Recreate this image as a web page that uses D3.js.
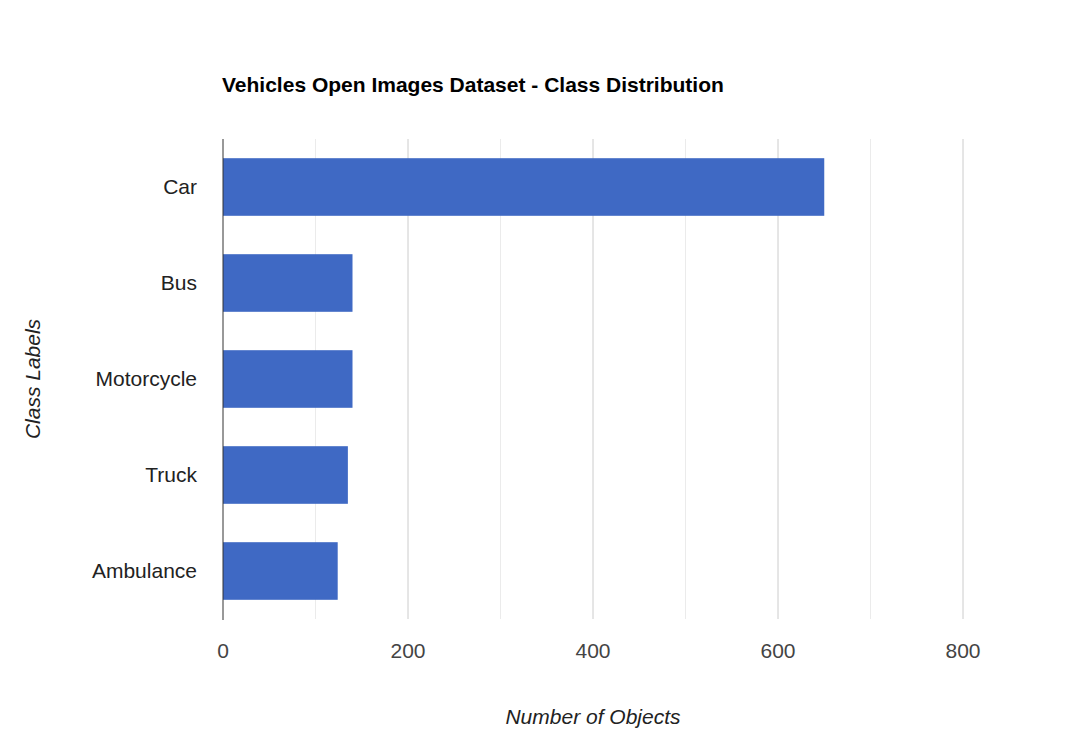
<!DOCTYPE html>
<html>
<head>
<meta charset="utf-8">
<script src="https://cdn.jsdelivr.net/npm/d3@7"></script>
<style>
  body { margin: 0; background: #fff; }
  text { font-family: "Liberation Sans", Arial, sans-serif; }
</style>
</head>
<body>
<svg id="chart" width="1074" height="750"></svg>
<script>
var categories = ["Car", "Bus", "Motorcycle", "Truck", "Ambulance"];
var counts = [650, 140, 140, 135, 124];
var majorTicks = [0, 200, 400, 600, 800];
var minorTicks = [100, 300, 500, 700];

var svg = d3.select("#chart");
var margin = {top: 139, left: 223, right: 111, bottom: 131};
var width = 1074 - margin.left - margin.right;
var height = 750 - margin.top - margin.bottom;

var x = d3.scaleLinear().domain([0, 800]).range([0, width]);
var y = d3.scaleBand().domain(categories).range([0, height])
    .paddingInner(0.4).paddingOuter(0.2);

var root = svg.append("g")
    .attr("transform", "translate(" + margin.left + "," + margin.top + ")");

// gridlines
root.selectAll("line.minor").data(minorTicks).enter().append("line")
    .attr("x1", x).attr("x2", x).attr("y1", 0).attr("y2", height)
    .attr("stroke", "#ebebeb");
root.selectAll("line.major").data(majorTicks.slice(1)).enter().append("line")
    .attr("x1", x).attr("x2", x).attr("y1", 0).attr("y2", height)
    .attr("stroke", "#cccccc");

// bars
root.selectAll("rect.bar").data(categories).enter().append("rect")
    .attr("x", 0)
    .attr("y", function (d) { return y(d); })
    .attr("width", function (d, i) { return x(counts[i]); })
    .attr("height", y.bandwidth())
    .attr("fill", "#3f69c4");

// axis line
root.append("line").attr("x1", 0).attr("x2", 0).attr("y1", 0).attr("y2", height + 1)
    .attr("stroke", "#333");

// x tick labels
root.selectAll("text.xt").data(majorTicks).enter().append("text")
    .attr("x", x).attr("y", height + 39)
    .attr("text-anchor", "middle")
    .attr("font-size", 21).attr("fill", "#444")
    .text(function (d) { return d; });

// y labels
root.selectAll("text.yt").data(categories).enter().append("text")
    .attr("x", -26).attr("y", function (d) { return y(d) + y.bandwidth() / 2; })
    .attr("dy", "0.35em")
    .attr("text-anchor", "end")
    .attr("font-size", 21).attr("fill", "#222")
    .text(function (d) { return d; });

// title
svg.append("text").attr("x", 222).attr("y", 92)
    .attr("font-size", 21).attr("font-weight", "bold").attr("fill", "#000")
    .text("Vehicles Open Images Dataset - Class Distribution");

// axis titles
svg.append("text").attr("x", margin.left + x(400)).attr("y", 724)
    .attr("text-anchor", "middle").attr("font-size", 21)
    .attr("font-style", "italic").attr("fill", "#222")
    .text("Number of Objects");
svg.append("text")
    .attr("transform", "translate(40," + (margin.top + height / 2) + ") rotate(-90)")
    .attr("text-anchor", "middle").attr("font-size", 21)
    .attr("font-style", "italic").attr("fill", "#222")
    .text("Class Labels");
</script>
</body>
</html>
